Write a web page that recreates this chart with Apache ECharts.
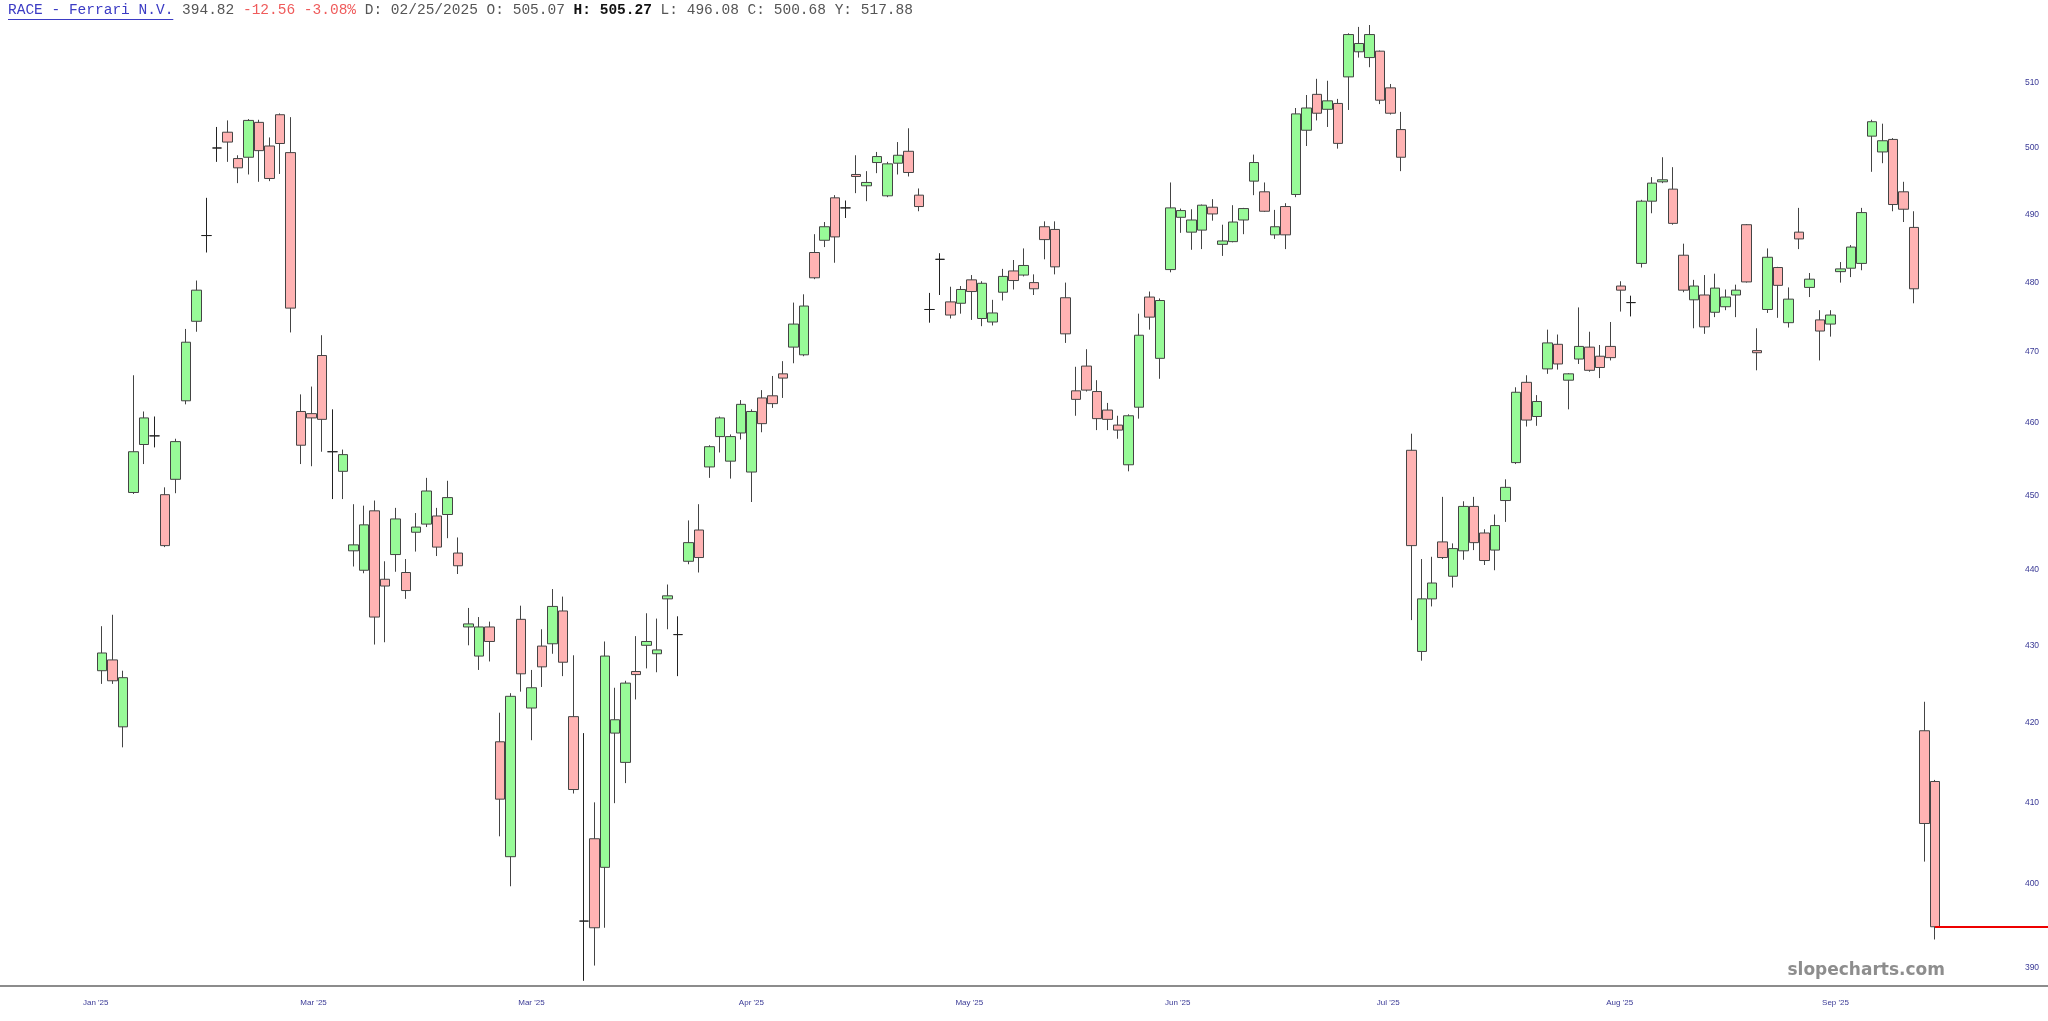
<!DOCTYPE html>
<html>
<head>
<meta charset="utf-8">
<title>RACE - Ferrari N.V.</title>
<script src="https://cdn.jsdelivr.net/npm/echarts@6/dist/echarts.min.js"></script>
<style>
    html, body { margin: 0; padding: 0; background: #fff; }
    #chart { width: 2048px; height: 1021px; }
</style>
</head>
<body>
<div id="chart"></div>
<script>
// daily OHLC, one entry per session, oldest first
var opens = [
    426.7, 428.1, 419.5, 450.4, 457.0, 458.2, 450.1, 452.2, 463.1, 474.4,
    486.9, 500.0, 502.4, 498.4, 498.6, 503.9, 500.3, 505.07, 499.3, 461.6,
    461.3, 469.5, 456.0, 453.3, 442.5, 439.9, 447.9, 438.7, 442.0, 439.6,
    445.0, 446.1, 447.2, 447.4, 442.2, 432.4, 428.6, 432.4, 417.6, 403.3,
    433.4, 421.9, 429.9, 430.2, 434.5, 420.8, 395.5, 405.5, 402.0, 418.7,
    415.0, 426.6, 430.0, 428.9, 436.1, 431.4, 441.1, 445.3, 453.9, 458.1,
    454.7, 458.6, 453.2, 463.5, 463.8, 466.9, 470.7, 469.6, 484.4, 486.2,
    492.5, 491.0, 496.0, 494.3, 497.8, 492.8, 497.7, 499.5, 492.9, 476.1,
    483.4, 477.2, 477.0, 480.4, 474.8, 474.3, 478.6, 481.7, 481.1, 480.0,
    488.2, 487.8, 477.8, 464.5, 468.0, 464.4, 461.8, 459.7, 454.2, 462.2,
    477.9, 469.1, 481.9, 489.6, 487.4, 487.7, 491.1, 485.6, 486.0, 489.2,
    495.0, 493.4, 487.0, 491.2, 493.0, 502.7, 508.2, 505.9, 506.8, 510.9,
    514.8, 513.9, 514.9, 509.2, 502.8, 456.2, 429.2, 436.1, 443.7, 439.1,
    442.5, 448.5, 444.9, 442.6, 449.3, 454.5, 465.7, 460.9, 467.6, 471.1,
    466.0, 469.0, 470.7, 469.4, 470.8, 479.5, 477.1, 482.8, 492.0, 494.9,
    493.8, 484.0, 477.5, 478.2, 475.7, 476.5, 478.2, 488.5, 470.2, 476.1,
    482.2, 474.2, 487.4, 479.3, 474.6, 474.0, 481.6, 482.1, 482.8, 501.8,
    499.4, 501.3, 493.4, 488.1, 419.0, 412.6
];
var closes = [
    429.0, 425.4, 425.8, 456.0, 460.7, 458.2, 443.2, 457.4, 471.4, 478.9,
    486.9, 500.0, 500.9, 497.0, 504.2, 499.6, 495.4, 500.68, 476.3, 456.9,
    460.7, 460.5, 456.0, 455.6, 443.3, 446.0, 433.7, 437.8, 446.8, 437.2,
    445.7, 450.6, 443.0, 449.7, 440.5, 432.8, 432.4, 430.5, 410.4, 423.4,
    426.3, 424.5, 427.2, 435.1, 427.8, 411.6, 395.5, 394.7, 428.6, 420.4,
    425.1, 426.2, 430.5, 429.4, 436.5, 431.4, 443.6, 441.6, 456.7, 460.7,
    458.1, 462.6, 461.6, 459.9, 462.7, 466.3, 474.0, 476.6, 480.7, 488.2,
    486.7, 491.0, 495.7, 494.8, 498.7, 497.6, 498.9, 496.3, 491.2, 476.1,
    483.4, 475.3, 479.0, 478.7, 479.9, 475.6, 480.9, 480.3, 482.5, 479.1,
    486.3, 482.3, 472.6, 463.3, 464.6, 460.6, 460.5, 459.0, 461.0, 472.4,
    475.0, 477.4, 491.0, 490.6, 489.2, 491.4, 490.1, 486.1, 488.9, 490.9,
    497.8, 490.5, 488.2, 487.0, 505.2, 506.1, 505.3, 507.2, 500.7, 517.5,
    516.1, 517.5, 507.3, 505.3, 498.6, 443.2, 436.1, 438.2, 441.6, 442.8,
    448.5, 443.6, 441.2, 445.9, 451.1, 464.3, 460.4, 463.0, 471.3, 468.3,
    466.9, 470.8, 467.4, 467.8, 469.2, 478.9, 477.1, 492.0, 494.7, 495.2,
    488.7, 478.9, 479.5, 473.6, 479.2, 477.9, 478.9, 480.1, 469.9, 483.7,
    479.6, 477.6, 486.4, 480.5, 473.0, 475.3, 482.0, 485.2, 490.3, 504.0,
    501.1, 491.5, 490.8, 479.1, 407.38, 394.82
];
var lows = [
    425.0, 425.0, 416.9, 450.2, 454.3, 456.6, 443.0, 450.3, 462.6, 472.9,
    484.4, 497.9, 497.9, 494.7, 496.0, 494.9, 495.0, 496.08, 472.8, 454.3,
    454.0, 456.0, 449.5, 449.5, 440.4, 439.5, 430.1, 430.4, 439.7, 436.1,
    442.4, 445.7, 441.8, 444.2, 439.4, 430.0, 426.8, 427.9, 405.8, 399.7,
    424.0, 417.8, 424.6, 428.9, 426.0, 411.1, 388.4, 390.2, 394.7, 409.9,
    412.4, 423.0, 427.0, 426.5, 432.1, 426.0, 440.7, 439.6, 452.4, 455.9,
    452.3, 457.7, 449.1, 458.7, 462.1, 463.5, 468.4, 469.4, 480.5, 485.2,
    482.9, 489.5, 493.2, 492.0, 496.2, 492.6, 496.0, 495.7, 490.5, 474.2,
    478.2, 474.8, 475.5, 474.6, 473.7, 473.8, 477.4, 479.0, 480.9, 478.2,
    483.4, 481.2, 471.3, 461.0, 464.4, 459.0, 459.0, 457.8, 453.3, 460.6,
    473.2, 466.2, 481.5, 487.3, 484.8, 484.9, 489.1, 483.9, 485.9, 487.1,
    492.9, 490.4, 486.4, 484.9, 492.6, 500.3, 504.2, 503.2, 499.9, 505.8,
    513.9, 512.4, 506.7, 505.1, 496.5, 433.3, 428.0, 435.1, 441.4, 437.6,
    441.3, 442.6, 440.6, 439.9, 446.4, 454.3, 459.5, 459.6, 466.9, 467.5,
    461.9, 468.3, 467.2, 466.3, 468.8, 475.8, 475.1, 482.2, 490.2, 494.7,
    488.5, 478.6, 473.4, 472.6, 475.0, 476.0, 475.0, 480.0, 467.4, 475.6,
    474.9, 473.5, 484.9, 477.9, 468.8, 472.2, 480.0, 480.8, 481.8, 496.4,
    497.7, 490.5, 488.9, 477.0, 402.7, 393.3
];
var highs = [
    432.5, 434.0, 426.7, 466.7, 461.6, 460.9, 451.1, 457.8, 473.3, 480.3,
    492.5, 503.2, 504.2, 498.9, 504.4, 504.3, 501.6, 505.27, 504.7, 464.0,
    465.1, 472.4, 461.9, 456.3, 448.8, 448.6, 449.3, 441.1, 448.3, 441.4,
    447.6, 452.4, 448.3, 452.0, 444.3, 434.9, 433.7, 433.1, 421.3, 423.8,
    435.2, 426.8, 432.1, 437.4, 436.4, 428.7, 418.7, 410.0, 430.5, 424.5,
    425.4, 431.2, 434.2, 433.5, 438.0, 433.8, 446.6, 448.8, 456.9, 460.9,
    458.4, 463.2, 461.9, 464.6, 466.6, 468.7, 477.1, 478.3, 487.1, 488.9,
    492.9, 492.1, 498.9, 496.5, 499.4, 497.9, 500.9, 503.0, 493.9, 478.5,
    484.3, 479.4, 479.5, 481.1, 480.2, 477.5, 482.0, 483.3, 485.0, 481.2,
    489.0, 489.0, 480.0, 467.9, 470.4, 466.0, 462.8, 461.0, 461.2, 475.5,
    478.7, 477.7, 494.8, 490.9, 490.8, 491.5, 492.3, 488.5, 491.4, 491.0,
    499.0, 494.8, 490.7, 491.7, 506.1, 508.1, 510.6, 510.3, 507.5, 517.7,
    518.7, 519.0, 515.0, 509.8, 505.5, 458.5, 441.4, 441.7, 449.8, 443.5,
    449.2, 449.8, 445.4, 447.4, 452.2, 465.0, 466.7, 463.9, 473.2, 472.5,
    467.0, 476.4, 472.9, 471.0, 474.3, 480.2, 478.1, 492.2, 495.6, 498.6,
    497.1, 485.7, 480.4, 481.1, 481.3, 479.0, 479.7, 488.6, 473.4, 485.0,
    482.3, 479.3, 491.0, 481.4, 476.0, 476.0, 483.0, 485.5, 491.0, 504.3,
    503.7, 501.5, 494.9, 490.5, 422.7, 412.8
];

// month labels sit at these session positions
var monthTickPos = [-0.6, 20.2, 41.0, 62.0, 82.8, 102.7, 122.8, 144.9, 165.5];
var monthTickText = ["Jan '25", "Mar '25", "Mar '25", "Apr '25", "May '25", "Jun '25", "Jul '25", "Aug '25", "Sep '25"];
var priceTicks = [390, 400, 410, 420, 430, 440, 450, 460, 470, 480, 490, 500, 510];
var lastPrice = 394.82;

(function () {
    var W = 2048;
    var firstX = 102, lastX = 1935;
    var n = opens.length;
    var step = (lastX - firstX) / (n - 1);
    var xMin = -firstX / step;
    var xMax = (n - 1) + (W - lastX) / step;

    var candles = opens.map(function (o, i) {
        return [i, o, closes[i], lows[i], highs[i]];
    });

    function monthLabel(v) {
        var best = 0;
        for (var k = 1; k < monthTickPos.length; k++) {
            if (Math.abs(monthTickPos[k] - v) < Math.abs(monthTickPos[best] - v)) best = k;
        }
        return monthTickText[best];
    }

    var mono = "'Liberation Mono', 'Courier New', monospace";
    var chart = echarts.init(document.getElementById('chart'));
    chart.setOption({
        animation: false,
        backgroundColor: '#ffffff',
        title: {
            left: 8,
            top: 2,
            padding: 0,
            text: '{u|RACE - Ferrari N.V.} {g|394.82} {r|-12.56 -3.08%} {g|D: 02/25/2025 O: 505.07} {b|H: 505.27} {g|L: 496.08 C: 500.68 Y: 517.88}',
            textStyle: {
                fontFamily: mono,
                fontSize: 14.5,
                fontWeight: 'normal',
                color: '#555',
                lineHeight: 16,
                rich: {
                    u: { color: '#3b3bc4', fontFamily: mono, fontSize: 14.5 },
                    g: { color: '#555', fontFamily: mono, fontSize: 14.5 },
                    r: { color: '#ef5b5b', fontFamily: mono, fontSize: 14.5 },
                    b: { color: '#111', fontWeight: 'bold', fontFamily: mono, fontSize: 14.5 }
                }
            }
        },
        grid: { left: 0, right: 0, top: 20, bottom: 35, outerBoundsMode: 'none' },
        xAxis: {
            type: 'value',
            min: xMin,
            max: xMax,
            axisLine: { show: true, onZero: false, lineStyle: { color: '#8c8c8c', width: 2 } },
            axisTick: { show: false },
            splitLine: { show: false },
            axisLabel: {
                customValues: monthTickPos,
                formatter: monthLabel,
                color: '#3a3a96',
                fontSize: 8,
                fontFamily: 'Arial, "Liberation Sans", sans-serif',
                margin: 13
            }
        },
        yAxis: {
            type: 'log',
            logBase: 10,
            position: 'right',
            min: 387.79,
            max: 519.79,
            axisLine: { show: false },
            axisTick: { show: false },
            splitLine: { show: false },
            axisLabel: {
                inside: true,
                customValues: priceTicks,
                align: 'center',
                margin: 16,
                color: '#3a3a96',
                fontSize: 8.5,
                fontFamily: 'Arial, "Liberation Sans", sans-serif'
            }
        },
        series: [{
            type: 'candlestick',
            data: candles,
            barWidth: 10,
            itemStyle: {
                color: '#98fb98',
                color0: '#ffb3b3',
                borderColor: '#444',
                borderColor0: '#444',
                borderColorDoji: '#222',
                borderWidth: 1
            },
            markLine: {
                silent: true,
                symbol: ['none', 'none'],
                label: { show: false },
                lineStyle: { color: '#ee0000', width: 2, type: 'solid' },
                data: [[{ coord: [n - 1, lastPrice] }, { coord: [xMax, lastPrice] }]]
            }
        }],
        graphic: [
            {
                type: 'line',
                shape: { x1: 8, y1: 19.5, x2: 8 + 19 * 8.7, y2: 19.5 },
                style: { stroke: '#3b3bc4', lineWidth: 1 }
            },
            {
                type: 'text',
                right: 103,
                top: 962,
                style: {
                    text: 'slopecharts.com',
                    font: 'bold 17px "DejaVu Sans", Verdana, sans-serif',
                    fill: '#8d8d8d'
                }
            }
        ]
    });
})();
</script>
</body>
</html>
